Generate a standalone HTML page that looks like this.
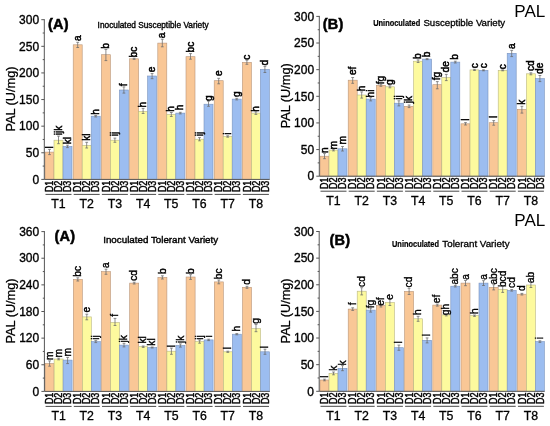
<!DOCTYPE html>
<html><head><meta charset="utf-8"><style>
html,body{margin:0;padding:0;background:#fff;}
svg{display:block;filter:blur(0.5px);}
text{font-family:'Liberation Sans',sans-serif;fill:#000;}
</style></head><body>
<svg width="550" height="426" viewBox="0 0 550 426">
<rect width="550" height="426" fill="#fff"/>
<rect x="45" y="152.1" width="9" height="27.3" fill="#f9c796" stroke="#b8957a" stroke-width="0.6"/>
<rect x="54" y="140.2" width="9" height="39.2" fill="#fdfa9e" stroke="#b9b684" stroke-width="0.6"/>
<rect x="63" y="146.4" width="9" height="33" fill="#9cbdf0" stroke="#7b93bd" stroke-width="0.6"/>
<rect x="73.2" y="44.8" width="9" height="134.6" fill="#f9c796" stroke="#b8957a" stroke-width="0.6"/>
<rect x="82.2" y="145.3" width="9" height="34.1" fill="#fdfa9e" stroke="#b9b684" stroke-width="0.6"/>
<rect x="91.2" y="116.2" width="9" height="63.2" fill="#9cbdf0" stroke="#7b93bd" stroke-width="0.6"/>
<rect x="101.4" y="54.7" width="9" height="124.7" fill="#f9c796" stroke="#b8957a" stroke-width="0.6"/>
<rect x="110.4" y="140.2" width="9" height="39.2" fill="#fdfa9e" stroke="#b9b684" stroke-width="0.6"/>
<rect x="119.4" y="90" width="9" height="89.4" fill="#9cbdf0" stroke="#7b93bd" stroke-width="0.6"/>
<rect x="129.6" y="58.8" width="9" height="120.6" fill="#f9c796" stroke="#b8957a" stroke-width="0.6"/>
<rect x="138.6" y="111.4" width="9" height="68" fill="#fdfa9e" stroke="#b9b684" stroke-width="0.6"/>
<rect x="147.6" y="76" width="9" height="103.4" fill="#9cbdf0" stroke="#7b93bd" stroke-width="0.6"/>
<rect x="157.8" y="43.1" width="9" height="136.3" fill="#f9c796" stroke="#b8957a" stroke-width="0.6"/>
<rect x="166.8" y="114.5" width="9" height="64.9" fill="#fdfa9e" stroke="#b9b684" stroke-width="0.6"/>
<rect x="175.8" y="113.1" width="9" height="66.3" fill="#9cbdf0" stroke="#7b93bd" stroke-width="0.6"/>
<rect x="186" y="56.7" width="9" height="122.7" fill="#f9c796" stroke="#b8957a" stroke-width="0.6"/>
<rect x="195" y="139.2" width="9" height="40.2" fill="#fdfa9e" stroke="#b9b684" stroke-width="0.6"/>
<rect x="204" y="104.2" width="9" height="75.2" fill="#9cbdf0" stroke="#7b93bd" stroke-width="0.6"/>
<rect x="214.2" y="80.7" width="9" height="98.7" fill="#f9c796" stroke="#b8957a" stroke-width="0.6"/>
<rect x="223.2" y="136.5" width="9" height="42.9" fill="#fdfa9e" stroke="#b9b684" stroke-width="0.6"/>
<rect x="232.2" y="99.1" width="9" height="80.3" fill="#9cbdf0" stroke="#7b93bd" stroke-width="0.6"/>
<rect x="242.4" y="62.3" width="9" height="117.1" fill="#f9c796" stroke="#b8957a" stroke-width="0.6"/>
<rect x="251.4" y="113.1" width="9" height="66.3" fill="#fdfa9e" stroke="#b9b684" stroke-width="0.6"/>
<rect x="260.4" y="69.4" width="9" height="110" fill="#9cbdf0" stroke="#7b93bd" stroke-width="0.6"/>
<path d="M49.5 149.4V154.6M48.1 149.4H50.9M48.1 154.6H50.9" stroke="#6a6a6a" stroke-width="0.75" fill="none"/>
<path d="M58.5 136.1V143.7M57.1 136.1H59.9M57.1 143.7H59.9" stroke="#6a6a6a" stroke-width="0.75" fill="none"/>
<path d="M67.5 145.2V147.6M66.1 145.2H68.9M66.1 147.6H68.9" stroke="#6a6a6a" stroke-width="0.75" fill="none"/>
<path d="M77.7 42.3V47.5M76.3 42.3H79.1M76.3 47.5H79.1" stroke="#6a6a6a" stroke-width="0.75" fill="none"/>
<path d="M86.7 142.3V148M85.3 142.3H88.1M85.3 148H88.1" stroke="#6a6a6a" stroke-width="0.75" fill="none"/>
<path d="M95.7 115.5V117M94.3 115.5H97.1M94.3 117H97.1" stroke="#6a6a6a" stroke-width="0.75" fill="none"/>
<path d="M105.9 49.5V60.6M104.5 49.5H107.3M104.5 60.6H107.3" stroke="#6a6a6a" stroke-width="0.75" fill="none"/>
<path d="M114.9 138.1V142.3M113.5 138.1H116.3M113.5 142.3H116.3" stroke="#6a6a6a" stroke-width="0.75" fill="none"/>
<path d="M123.9 86.9V93.1M122.5 86.9H125.3M122.5 93.1H125.3" stroke="#6a6a6a" stroke-width="0.75" fill="none"/>
<path d="M134.1 58.2V59.4M132.7 58.2H135.5M132.7 59.4H135.5" stroke="#6a6a6a" stroke-width="0.75" fill="none"/>
<path d="M143.1 108.4V113.5M141.7 108.4H144.5M141.7 113.5H144.5" stroke="#6a6a6a" stroke-width="0.75" fill="none"/>
<path d="M152.1 73.6V78.7M150.7 73.6H153.5M150.7 78.7H153.5" stroke="#6a6a6a" stroke-width="0.75" fill="none"/>
<path d="M162.3 39.2V46.8M160.9 39.2H163.7M160.9 46.8H163.7" stroke="#6a6a6a" stroke-width="0.75" fill="none"/>
<path d="M171.3 112.5V116.5M169.9 112.5H172.7M169.9 116.5H172.7" stroke="#6a6a6a" stroke-width="0.75" fill="none"/>
<path d="M180.3 112.3V113.9M178.9 112.3H181.7M178.9 113.9H181.7" stroke="#6a6a6a" stroke-width="0.75" fill="none"/>
<path d="M190.5 53.6V59.2M189.1 53.6H191.9M189.1 59.2H191.9" stroke="#6a6a6a" stroke-width="0.75" fill="none"/>
<path d="M199.5 137.6V140.8M198.1 137.6H200.9M198.1 140.8H200.9" stroke="#6a6a6a" stroke-width="0.75" fill="none"/>
<path d="M208.5 101.2V106.3M207.1 101.2H209.9M207.1 106.3H209.9" stroke="#6a6a6a" stroke-width="0.75" fill="none"/>
<path d="M218.7 78.3V83.8M217.3 78.3H220.1M217.3 83.8H220.1" stroke="#6a6a6a" stroke-width="0.75" fill="none"/>
<path d="M227.7 135.8V137.2M226.3 135.8H229.1M226.3 137.2H229.1" stroke="#6a6a6a" stroke-width="0.75" fill="none"/>
<path d="M236.7 98.3V99.9M235.3 98.3H238.1M235.3 99.9H238.1" stroke="#6a6a6a" stroke-width="0.75" fill="none"/>
<path d="M246.9 60.2V64.3M245.5 60.2H248.3M245.5 64.3H248.3" stroke="#6a6a6a" stroke-width="0.75" fill="none"/>
<path d="M255.9 111.8V114.4M254.5 111.8H257.3M254.5 114.4H257.3" stroke="#6a6a6a" stroke-width="0.75" fill="none"/>
<path d="M264.9 66.4V72.5M263.5 66.4H266.3M263.5 72.5H266.3" stroke="#6a6a6a" stroke-width="0.75" fill="none"/>
<text transform="translate(52.6,147.4) rotate(-90)" font-size="10.2" stroke="#000" stroke-width="0.5" text-anchor="middle">l</text>
<text transform="translate(61.6,130.45) rotate(-90)" font-size="10.2" stroke="#000" stroke-width="0.5" text-anchor="middle">ijk</text>
<text transform="translate(70.6,140.7) rotate(-90)" font-size="10.2" stroke="#000" stroke-width="0.5" text-anchor="middle">kl</text>
<text transform="translate(80.8,38.1) rotate(-90)" font-size="10.2" stroke="#000" stroke-width="0.5" text-anchor="middle">a</text>
<text transform="translate(89.8,137.1) rotate(-90)" font-size="10.2" stroke="#000" stroke-width="0.5" text-anchor="middle">kl</text>
<text transform="translate(98.8,111.95) rotate(-90)" font-size="10.2" stroke="#000" stroke-width="0.5" text-anchor="middle">h</text>
<text transform="translate(109,45.85) rotate(-90)" font-size="10.2" stroke="#000" stroke-width="0.5" text-anchor="middle">b</text>
<text transform="translate(118,134.05) rotate(-90)" font-size="10.2" stroke="#000" stroke-width="0.5" text-anchor="middle">ij</text>
<text transform="translate(127,84.85) rotate(-90)" font-size="10.2" stroke="#000" stroke-width="0.5" text-anchor="middle">f</text>
<text transform="translate(137.2,52) rotate(-90)" font-size="10.2" stroke="#000" stroke-width="0.5" text-anchor="middle">bc</text>
<text transform="translate(146.2,104.75) rotate(-90)" font-size="10.2" stroke="#000" stroke-width="0.5" text-anchor="middle">h</text>
<text transform="translate(155.2,69.45) rotate(-90)" font-size="10.2" stroke="#000" stroke-width="0.5" text-anchor="middle">e</text>
<text transform="translate(165.4,35.35) rotate(-90)" font-size="10.2" stroke="#000" stroke-width="0.5" text-anchor="middle">a</text>
<text transform="translate(174.4,108.85) rotate(-90)" font-size="10.2" stroke="#000" stroke-width="0.5" text-anchor="middle">h</text>
<text transform="translate(183.4,107.3) rotate(-90)" font-size="10.2" stroke="#000" stroke-width="0.5" text-anchor="middle">h</text>
<text transform="translate(193.6,47.15) rotate(-90)" font-size="10.2" stroke="#000" stroke-width="0.5" text-anchor="middle">bc</text>
<text transform="translate(202.6,134.05) rotate(-90)" font-size="10.2" stroke="#000" stroke-width="0.5" text-anchor="middle">ij</text>
<text transform="translate(211.6,98.05) rotate(-90)" font-size="10.2" stroke="#000" stroke-width="0.5" text-anchor="middle">g</text>
<text transform="translate(221.8,73.05) rotate(-90)" font-size="10.2" stroke="#000" stroke-width="0.5" text-anchor="middle">e</text>
<text transform="translate(230.8,133.55) rotate(-90)" font-size="10.2" stroke="#000" stroke-width="0.5" text-anchor="middle">i</text>
<text transform="translate(239.8,94.1) rotate(-90)" font-size="10.2" stroke="#000" stroke-width="0.5" text-anchor="middle">g</text>
<text transform="translate(250,57.1) rotate(-90)" font-size="10.2" stroke="#000" stroke-width="0.5" text-anchor="middle">c</text>
<text transform="translate(259,108.85) rotate(-90)" font-size="10.2" stroke="#000" stroke-width="0.5" text-anchor="middle">h</text>
<text transform="translate(268,62.75) rotate(-90)" font-size="10.2" stroke="#000" stroke-width="0.5" text-anchor="middle">d</text>
<path d="M44.3 19.2V179.4H269.7" stroke="#555" stroke-width="1" fill="none"/>
<path d="M41.3 179.4H44.3" stroke="#555" stroke-width="1"/>
<path d="M42.7 166.09H44.3" stroke="#555" stroke-width="1"/>
<text x="39.1" y="183.6" font-size="12" text-anchor="end" stroke="#000" stroke-width="0.35">0</text>
<path d="M41.3 152.78H44.3" stroke="#555" stroke-width="1"/>
<path d="M42.7 139.47H44.3" stroke="#555" stroke-width="1"/>
<text x="39.1" y="156.98" font-size="12" text-anchor="end" stroke="#000" stroke-width="0.35">50</text>
<path d="M41.3 126.17H44.3" stroke="#555" stroke-width="1"/>
<path d="M42.7 112.86H44.3" stroke="#555" stroke-width="1"/>
<text x="39.1" y="130.37" font-size="12" text-anchor="end" stroke="#000" stroke-width="0.35">100</text>
<path d="M41.3 99.55H44.3" stroke="#555" stroke-width="1"/>
<path d="M42.7 86.24H44.3" stroke="#555" stroke-width="1"/>
<text x="39.1" y="103.75" font-size="12" text-anchor="end" stroke="#000" stroke-width="0.35">150</text>
<path d="M41.3 72.93H44.3" stroke="#555" stroke-width="1"/>
<path d="M42.7 59.62H44.3" stroke="#555" stroke-width="1"/>
<text x="39.1" y="77.13" font-size="12" text-anchor="end" stroke="#000" stroke-width="0.35">200</text>
<path d="M41.3 46.32H44.3" stroke="#555" stroke-width="1"/>
<path d="M42.7 33.01H44.3" stroke="#555" stroke-width="1"/>
<text x="39.1" y="50.52" font-size="12" text-anchor="end" stroke="#000" stroke-width="0.35">250</text>
<path d="M41.3 19.7H44.3" stroke="#555" stroke-width="1"/>
<text x="39.1" y="23.9" font-size="12" text-anchor="end" stroke="#000" stroke-width="0.35">300</text>
<text transform="translate(14.8,99.05) rotate(-90)" font-size="12.2" stroke="#000" stroke-width="0.25" text-anchor="middle" textLength="65" lengthAdjust="spacingAndGlyphs">PAL (U/mg)</text>
<text transform="translate(53.1,192.1) rotate(-90) scale(0.88,1)" font-size="10.2" stroke="#000" stroke-width="0.45">D1</text>
<text transform="translate(62.1,192.1) rotate(-90) scale(0.88,1)" font-size="10.2" stroke="#000" stroke-width="0.45">D2</text>
<text transform="translate(71.1,192.1) rotate(-90) scale(0.88,1)" font-size="10.2" stroke="#000" stroke-width="0.45">D3</text>
<path d="M45.5 194.4H71.5" stroke="#333" stroke-width="0.9"/>
<text x="58.5" y="208" font-size="12.3" text-anchor="middle" stroke="#000" stroke-width="0.3">T1</text>
<text transform="translate(81.3,192.1) rotate(-90) scale(0.88,1)" font-size="10.2" stroke="#000" stroke-width="0.45">D1</text>
<text transform="translate(90.3,192.1) rotate(-90) scale(0.88,1)" font-size="10.2" stroke="#000" stroke-width="0.45">D2</text>
<text transform="translate(99.3,192.1) rotate(-90) scale(0.88,1)" font-size="10.2" stroke="#000" stroke-width="0.45">D3</text>
<path d="M73.7 194.4H99.7" stroke="#333" stroke-width="0.9"/>
<text x="86.7" y="208" font-size="12.3" text-anchor="middle" stroke="#000" stroke-width="0.3">T2</text>
<text transform="translate(109.5,192.1) rotate(-90) scale(0.88,1)" font-size="10.2" stroke="#000" stroke-width="0.45">D1</text>
<text transform="translate(118.5,192.1) rotate(-90) scale(0.88,1)" font-size="10.2" stroke="#000" stroke-width="0.45">D2</text>
<text transform="translate(127.5,192.1) rotate(-90) scale(0.88,1)" font-size="10.2" stroke="#000" stroke-width="0.45">D3</text>
<path d="M101.9 194.4H127.9" stroke="#333" stroke-width="0.9"/>
<text x="114.9" y="208" font-size="12.3" text-anchor="middle" stroke="#000" stroke-width="0.3">T3</text>
<text transform="translate(137.7,192.1) rotate(-90) scale(0.88,1)" font-size="10.2" stroke="#000" stroke-width="0.45">D1</text>
<text transform="translate(146.7,192.1) rotate(-90) scale(0.88,1)" font-size="10.2" stroke="#000" stroke-width="0.45">D2</text>
<text transform="translate(155.7,192.1) rotate(-90) scale(0.88,1)" font-size="10.2" stroke="#000" stroke-width="0.45">D3</text>
<path d="M130.1 194.4H156.1" stroke="#333" stroke-width="0.9"/>
<text x="143.1" y="208" font-size="12.3" text-anchor="middle" stroke="#000" stroke-width="0.3">T4</text>
<text transform="translate(165.9,192.1) rotate(-90) scale(0.88,1)" font-size="10.2" stroke="#000" stroke-width="0.45">D1</text>
<text transform="translate(174.9,192.1) rotate(-90) scale(0.88,1)" font-size="10.2" stroke="#000" stroke-width="0.45">D2</text>
<text transform="translate(183.9,192.1) rotate(-90) scale(0.88,1)" font-size="10.2" stroke="#000" stroke-width="0.45">D3</text>
<path d="M158.3 194.4H184.3" stroke="#333" stroke-width="0.9"/>
<text x="171.3" y="208" font-size="12.3" text-anchor="middle" stroke="#000" stroke-width="0.3">T5</text>
<text transform="translate(194.1,192.1) rotate(-90) scale(0.88,1)" font-size="10.2" stroke="#000" stroke-width="0.45">D1</text>
<text transform="translate(203.1,192.1) rotate(-90) scale(0.88,1)" font-size="10.2" stroke="#000" stroke-width="0.45">D2</text>
<text transform="translate(212.1,192.1) rotate(-90) scale(0.88,1)" font-size="10.2" stroke="#000" stroke-width="0.45">D3</text>
<path d="M186.5 194.4H212.5" stroke="#333" stroke-width="0.9"/>
<text x="199.5" y="208" font-size="12.3" text-anchor="middle" stroke="#000" stroke-width="0.3">T6</text>
<text transform="translate(222.3,192.1) rotate(-90) scale(0.88,1)" font-size="10.2" stroke="#000" stroke-width="0.45">D1</text>
<text transform="translate(231.3,192.1) rotate(-90) scale(0.88,1)" font-size="10.2" stroke="#000" stroke-width="0.45">D2</text>
<text transform="translate(240.3,192.1) rotate(-90) scale(0.88,1)" font-size="10.2" stroke="#000" stroke-width="0.45">D3</text>
<path d="M214.7 194.4H240.7" stroke="#333" stroke-width="0.9"/>
<text x="227.7" y="208" font-size="12.3" text-anchor="middle" stroke="#000" stroke-width="0.3">T7</text>
<text transform="translate(250.5,192.1) rotate(-90) scale(0.88,1)" font-size="10.2" stroke="#000" stroke-width="0.45">D1</text>
<text transform="translate(259.5,192.1) rotate(-90) scale(0.88,1)" font-size="10.2" stroke="#000" stroke-width="0.45">D2</text>
<text transform="translate(268.5,192.1) rotate(-90) scale(0.88,1)" font-size="10.2" stroke="#000" stroke-width="0.45">D3</text>
<path d="M242.9 194.4H268.9" stroke="#333" stroke-width="0.9"/>
<text x="255.9" y="208" font-size="12.3" text-anchor="middle" stroke="#000" stroke-width="0.3">T8</text>
<text x="48.1" y="29.2" font-size="14.5" font-weight="bold" stroke="#000" stroke-width="0.5" letter-spacing="0.2">(A)</text>
<rect x="320" y="156.2" width="9" height="20" fill="#f9c796" stroke="#b8957a" stroke-width="0.6"/>
<rect x="329" y="150.1" width="9" height="26.1" fill="#fdfa9e" stroke="#b9b684" stroke-width="0.6"/>
<rect x="338" y="148.8" width="9" height="27.4" fill="#9cbdf0" stroke="#7b93bd" stroke-width="0.6"/>
<rect x="348.2" y="80.2" width="9" height="96" fill="#f9c796" stroke="#b8957a" stroke-width="0.6"/>
<rect x="357.2" y="95" width="9" height="81.2" fill="#fdfa9e" stroke="#b9b684" stroke-width="0.6"/>
<rect x="366.2" y="99.1" width="9" height="77.1" fill="#9cbdf0" stroke="#7b93bd" stroke-width="0.6"/>
<rect x="376.4" y="85.3" width="9" height="90.9" fill="#f9c796" stroke="#b8957a" stroke-width="0.6"/>
<rect x="385.4" y="86.8" width="9" height="89.4" fill="#fdfa9e" stroke="#b9b684" stroke-width="0.6"/>
<rect x="394.4" y="103.2" width="9" height="73" fill="#9cbdf0" stroke="#7b93bd" stroke-width="0.6"/>
<rect x="404.6" y="106.3" width="9" height="69.9" fill="#f9c796" stroke="#b8957a" stroke-width="0.6"/>
<rect x="413.6" y="61.2" width="9" height="115" fill="#fdfa9e" stroke="#b9b684" stroke-width="0.6"/>
<rect x="422.6" y="59.1" width="9" height="117.1" fill="#9cbdf0" stroke="#7b93bd" stroke-width="0.6"/>
<rect x="432.8" y="84.7" width="9" height="91.5" fill="#f9c796" stroke="#b8957a" stroke-width="0.6"/>
<rect x="441.8" y="77.5" width="9" height="98.7" fill="#fdfa9e" stroke="#b9b684" stroke-width="0.6"/>
<rect x="450.8" y="62.1" width="9" height="114.1" fill="#9cbdf0" stroke="#7b93bd" stroke-width="0.6"/>
<rect x="461" y="123.8" width="9" height="52.4" fill="#f9c796" stroke="#b8957a" stroke-width="0.6"/>
<rect x="470" y="69.9" width="9" height="106.3" fill="#fdfa9e" stroke="#b9b684" stroke-width="0.6"/>
<rect x="479" y="70.3" width="9" height="105.9" fill="#9cbdf0" stroke="#7b93bd" stroke-width="0.6"/>
<rect x="489.2" y="122.7" width="9" height="53.5" fill="#f9c796" stroke="#b8957a" stroke-width="0.6"/>
<rect x="498.2" y="70.3" width="9" height="105.9" fill="#fdfa9e" stroke="#b9b684" stroke-width="0.6"/>
<rect x="507.2" y="53.3" width="9" height="122.9" fill="#9cbdf0" stroke="#7b93bd" stroke-width="0.6"/>
<rect x="517.4" y="109.4" width="9" height="66.8" fill="#f9c796" stroke="#b8957a" stroke-width="0.6"/>
<rect x="526.4" y="73.8" width="9" height="102.4" fill="#fdfa9e" stroke="#b9b684" stroke-width="0.6"/>
<rect x="535.4" y="78.6" width="9" height="97.6" fill="#9cbdf0" stroke="#7b93bd" stroke-width="0.6"/>
<path d="M324.5 153.6V158.7M323.1 153.6H325.9M323.1 158.7H325.9" stroke="#6a6a6a" stroke-width="0.75" fill="none"/>
<path d="M333.5 149.3V150.9M332.1 149.3H334.9M332.1 150.9H334.9" stroke="#6a6a6a" stroke-width="0.75" fill="none"/>
<path d="M342.5 146.5V151M341.1 146.5H343.9M341.1 151H343.9" stroke="#6a6a6a" stroke-width="0.75" fill="none"/>
<path d="M352.7 77.5V83.3M351.3 77.5H354.1M351.3 83.3H354.1" stroke="#6a6a6a" stroke-width="0.75" fill="none"/>
<path d="M361.7 91.9V98.1M360.3 91.9H363.1M360.3 98.1H363.1" stroke="#6a6a6a" stroke-width="0.75" fill="none"/>
<path d="M370.7 97.3V100.9M369.3 97.3H372.1M369.3 100.9H372.1" stroke="#6a6a6a" stroke-width="0.75" fill="none"/>
<path d="M380.9 84.3V86.3M379.5 84.3H382.3M379.5 86.3H382.3" stroke="#6a6a6a" stroke-width="0.75" fill="none"/>
<path d="M389.9 85.8V87.8M388.5 85.8H391.3M388.5 87.8H391.3" stroke="#6a6a6a" stroke-width="0.75" fill="none"/>
<path d="M398.9 100.8V105.9M397.5 100.8H400.3M397.5 105.9H400.3" stroke="#6a6a6a" stroke-width="0.75" fill="none"/>
<path d="M409.1 105V107.6M407.7 105H410.5M407.7 107.6H410.5" stroke="#6a6a6a" stroke-width="0.75" fill="none"/>
<path d="M418.1 59.9V62.5M416.7 59.9H419.5M416.7 62.5H419.5" stroke="#6a6a6a" stroke-width="0.75" fill="none"/>
<path d="M427.1 58.6V59.6M425.7 58.6H428.5M425.7 59.6H428.5" stroke="#6a6a6a" stroke-width="0.75" fill="none"/>
<path d="M437.3 81.6V88.8M435.9 81.6H438.7M435.9 88.8H438.7" stroke="#6a6a6a" stroke-width="0.75" fill="none"/>
<path d="M446.3 74.4V80.6M444.9 74.4H447.7M444.9 80.6H447.7" stroke="#6a6a6a" stroke-width="0.75" fill="none"/>
<path d="M455.3 61.2V63M453.9 61.2H456.7M453.9 63H456.7" stroke="#6a6a6a" stroke-width="0.75" fill="none"/>
<path d="M465.5 122.6V125M464.1 122.6H466.9M464.1 125H466.9" stroke="#6a6a6a" stroke-width="0.75" fill="none"/>
<path d="M474.5 69.3V70.5M473.1 69.3H475.9M473.1 70.5H475.9" stroke="#6a6a6a" stroke-width="0.75" fill="none"/>
<path d="M483.5 69.8V70.8M482.1 69.8H484.9M482.1 70.8H484.9" stroke="#6a6a6a" stroke-width="0.75" fill="none"/>
<path d="M493.7 120.6V125.2M492.3 120.6H495.1M492.3 125.2H495.1" stroke="#6a6a6a" stroke-width="0.75" fill="none"/>
<path d="M502.7 69.8V70.8M501.3 69.8H504.1M501.3 70.8H504.1" stroke="#6a6a6a" stroke-width="0.75" fill="none"/>
<path d="M511.7 50.4V56.6M510.3 50.4H513.1M510.3 56.6H513.1" stroke="#6a6a6a" stroke-width="0.75" fill="none"/>
<path d="M521.9 106.3V113.1M520.5 106.3H523.3M520.5 113.1H523.3" stroke="#6a6a6a" stroke-width="0.75" fill="none"/>
<path d="M530.9 72.8V74.8M529.5 72.8H532.3M529.5 74.8H532.3" stroke="#6a6a6a" stroke-width="0.75" fill="none"/>
<path d="M539.9 75.5V81.6M538.5 75.5H541.3M538.5 81.6H541.3" stroke="#6a6a6a" stroke-width="0.75" fill="none"/>
<text transform="translate(327.6,150.25) rotate(-90)" font-size="10.2" stroke="#000" stroke-width="0.5" text-anchor="middle">n</text>
<text transform="translate(336.6,145.35) rotate(-90)" font-size="10.2" stroke="#000" stroke-width="0.5" text-anchor="middle">m</text>
<text transform="translate(345.6,140.2) rotate(-90)" font-size="10.2" stroke="#000" stroke-width="0.5" text-anchor="middle">m</text>
<text transform="translate(355.8,70.85) rotate(-90)" font-size="10.2" stroke="#000" stroke-width="0.5" text-anchor="middle">ef</text>
<text transform="translate(364.8,88.3) rotate(-90)" font-size="10.2" stroke="#000" stroke-width="0.5" text-anchor="middle">h</text>
<text transform="translate(373.8,93.45) rotate(-90)" font-size="10.2" stroke="#000" stroke-width="0.5" text-anchor="middle">hi</text>
<text transform="translate(384,80.1) rotate(-90)" font-size="10.2" stroke="#000" stroke-width="0.5" text-anchor="middle">fg</text>
<text transform="translate(393,82.15) rotate(-90)" font-size="10.2" stroke="#000" stroke-width="0.5" text-anchor="middle">g</text>
<text transform="translate(402,97.6) rotate(-90)" font-size="10.2" stroke="#000" stroke-width="0.5" text-anchor="middle">ij</text>
<text transform="translate(412.2,99.6) rotate(-90)" font-size="10.2" stroke="#000" stroke-width="0.5" text-anchor="middle">jk</text>
<text transform="translate(421.2,56.05) rotate(-90)" font-size="10.2" stroke="#000" stroke-width="0.5" text-anchor="middle">b</text>
<text transform="translate(430.2,54.35) rotate(-90)" font-size="10.2" stroke="#000" stroke-width="0.5" text-anchor="middle">b</text>
<text transform="translate(440.4,76) rotate(-90)" font-size="10.2" stroke="#000" stroke-width="0.5" text-anchor="middle">fg</text>
<text transform="translate(449.4,66.75) rotate(-90)" font-size="10.2" stroke="#000" stroke-width="0.5" text-anchor="middle">de</text>
<text transform="translate(458.4,57) rotate(-90)" font-size="10.2" stroke="#000" stroke-width="0.5" text-anchor="middle">b</text>
<text transform="translate(468.6,119.65) rotate(-90)" font-size="10.2" stroke="#000" stroke-width="0.5" text-anchor="middle">l</text>
<text transform="translate(477.6,65.7) rotate(-90)" font-size="10.2" stroke="#000" stroke-width="0.5" text-anchor="middle">c</text>
<text transform="translate(486.6,65.7) rotate(-90)" font-size="10.2" stroke="#000" stroke-width="0.5" text-anchor="middle">c</text>
<text transform="translate(496.8,116.75) rotate(-90)" font-size="10.2" stroke="#000" stroke-width="0.5" text-anchor="middle">l</text>
<text transform="translate(505.8,66.75) rotate(-90)" font-size="10.2" stroke="#000" stroke-width="0.5" text-anchor="middle">c</text>
<text transform="translate(514.8,46.2) rotate(-90)" font-size="10.2" stroke="#000" stroke-width="0.5" text-anchor="middle">a</text>
<text transform="translate(525,102.15) rotate(-90)" font-size="10.2" stroke="#000" stroke-width="0.5" text-anchor="middle">k</text>
<text transform="translate(534,65.7) rotate(-90)" font-size="10.2" stroke="#000" stroke-width="0.5" text-anchor="middle">cd</text>
<text transform="translate(543,68.25) rotate(-90)" font-size="10.2" stroke="#000" stroke-width="0.5" text-anchor="middle">de</text>
<path d="M319.3 15.9V176.2H544.7" stroke="#555" stroke-width="1" fill="none"/>
<path d="M316.3 176.2H319.3" stroke="#555" stroke-width="1"/>
<path d="M317.7 162.88H319.3" stroke="#555" stroke-width="1"/>
<text x="314.1" y="180.4" font-size="12" text-anchor="end" stroke="#000" stroke-width="0.35">0</text>
<path d="M316.3 149.57H319.3" stroke="#555" stroke-width="1"/>
<path d="M317.7 136.25H319.3" stroke="#555" stroke-width="1"/>
<text x="314.1" y="153.77" font-size="12" text-anchor="end" stroke="#000" stroke-width="0.35">50</text>
<path d="M316.3 122.93H319.3" stroke="#555" stroke-width="1"/>
<path d="M317.7 109.62H319.3" stroke="#555" stroke-width="1"/>
<text x="314.1" y="127.13" font-size="12" text-anchor="end" stroke="#000" stroke-width="0.35">100</text>
<path d="M316.3 96.3H319.3" stroke="#555" stroke-width="1"/>
<path d="M317.7 82.98H319.3" stroke="#555" stroke-width="1"/>
<text x="314.1" y="100.5" font-size="12" text-anchor="end" stroke="#000" stroke-width="0.35">150</text>
<path d="M316.3 69.67H319.3" stroke="#555" stroke-width="1"/>
<path d="M317.7 56.35H319.3" stroke="#555" stroke-width="1"/>
<text x="314.1" y="73.87" font-size="12" text-anchor="end" stroke="#000" stroke-width="0.35">200</text>
<path d="M316.3 43.03H319.3" stroke="#555" stroke-width="1"/>
<path d="M317.7 29.72H319.3" stroke="#555" stroke-width="1"/>
<text x="314.1" y="47.23" font-size="12" text-anchor="end" stroke="#000" stroke-width="0.35">250</text>
<path d="M316.3 16.4H319.3" stroke="#555" stroke-width="1"/>
<text x="314.1" y="20.6" font-size="12" text-anchor="end" stroke="#000" stroke-width="0.35">300</text>
<text transform="translate(289.8,95.8) rotate(-90)" font-size="12.2" stroke="#000" stroke-width="0.25" text-anchor="middle" textLength="65" lengthAdjust="spacingAndGlyphs">PAL (U/mg)</text>
<text transform="translate(328.1,188.9) rotate(-90) scale(0.88,1)" font-size="10.2" stroke="#000" stroke-width="0.45">D1</text>
<text transform="translate(337.1,188.9) rotate(-90) scale(0.88,1)" font-size="10.2" stroke="#000" stroke-width="0.45">D2</text>
<text transform="translate(346.1,188.9) rotate(-90) scale(0.88,1)" font-size="10.2" stroke="#000" stroke-width="0.45">D3</text>
<path d="M320.5 191.2H346.5" stroke="#333" stroke-width="0.9"/>
<text x="333.5" y="204.8" font-size="12.3" text-anchor="middle" stroke="#000" stroke-width="0.3">T1</text>
<text transform="translate(356.3,188.9) rotate(-90) scale(0.88,1)" font-size="10.2" stroke="#000" stroke-width="0.45">D1</text>
<text transform="translate(365.3,188.9) rotate(-90) scale(0.88,1)" font-size="10.2" stroke="#000" stroke-width="0.45">D2</text>
<text transform="translate(374.3,188.9) rotate(-90) scale(0.88,1)" font-size="10.2" stroke="#000" stroke-width="0.45">D3</text>
<path d="M348.7 191.2H374.7" stroke="#333" stroke-width="0.9"/>
<text x="361.7" y="204.8" font-size="12.3" text-anchor="middle" stroke="#000" stroke-width="0.3">T2</text>
<text transform="translate(384.5,188.9) rotate(-90) scale(0.88,1)" font-size="10.2" stroke="#000" stroke-width="0.45">D1</text>
<text transform="translate(393.5,188.9) rotate(-90) scale(0.88,1)" font-size="10.2" stroke="#000" stroke-width="0.45">D2</text>
<text transform="translate(402.5,188.9) rotate(-90) scale(0.88,1)" font-size="10.2" stroke="#000" stroke-width="0.45">D3</text>
<path d="M376.9 191.2H402.9" stroke="#333" stroke-width="0.9"/>
<text x="389.9" y="204.8" font-size="12.3" text-anchor="middle" stroke="#000" stroke-width="0.3">T3</text>
<text transform="translate(412.7,188.9) rotate(-90) scale(0.88,1)" font-size="10.2" stroke="#000" stroke-width="0.45">D1</text>
<text transform="translate(421.7,188.9) rotate(-90) scale(0.88,1)" font-size="10.2" stroke="#000" stroke-width="0.45">D2</text>
<text transform="translate(430.7,188.9) rotate(-90) scale(0.88,1)" font-size="10.2" stroke="#000" stroke-width="0.45">D3</text>
<path d="M405.1 191.2H431.1" stroke="#333" stroke-width="0.9"/>
<text x="418.1" y="204.8" font-size="12.3" text-anchor="middle" stroke="#000" stroke-width="0.3">T4</text>
<text transform="translate(440.9,188.9) rotate(-90) scale(0.88,1)" font-size="10.2" stroke="#000" stroke-width="0.45">D1</text>
<text transform="translate(449.9,188.9) rotate(-90) scale(0.88,1)" font-size="10.2" stroke="#000" stroke-width="0.45">D2</text>
<text transform="translate(458.9,188.9) rotate(-90) scale(0.88,1)" font-size="10.2" stroke="#000" stroke-width="0.45">D3</text>
<path d="M433.3 191.2H459.3" stroke="#333" stroke-width="0.9"/>
<text x="446.3" y="204.8" font-size="12.3" text-anchor="middle" stroke="#000" stroke-width="0.3">T5</text>
<text transform="translate(469.1,188.9) rotate(-90) scale(0.88,1)" font-size="10.2" stroke="#000" stroke-width="0.45">D1</text>
<text transform="translate(478.1,188.9) rotate(-90) scale(0.88,1)" font-size="10.2" stroke="#000" stroke-width="0.45">D2</text>
<text transform="translate(487.1,188.9) rotate(-90) scale(0.88,1)" font-size="10.2" stroke="#000" stroke-width="0.45">D3</text>
<path d="M461.5 191.2H487.5" stroke="#333" stroke-width="0.9"/>
<text x="474.5" y="204.8" font-size="12.3" text-anchor="middle" stroke="#000" stroke-width="0.3">T6</text>
<text transform="translate(497.3,188.9) rotate(-90) scale(0.88,1)" font-size="10.2" stroke="#000" stroke-width="0.45">D1</text>
<text transform="translate(506.3,188.9) rotate(-90) scale(0.88,1)" font-size="10.2" stroke="#000" stroke-width="0.45">D2</text>
<text transform="translate(515.3,188.9) rotate(-90) scale(0.88,1)" font-size="10.2" stroke="#000" stroke-width="0.45">D3</text>
<path d="M489.7 191.2H515.7" stroke="#333" stroke-width="0.9"/>
<text x="502.7" y="204.8" font-size="12.3" text-anchor="middle" stroke="#000" stroke-width="0.3">T7</text>
<text transform="translate(525.5,188.9) rotate(-90) scale(0.88,1)" font-size="10.2" stroke="#000" stroke-width="0.45">D1</text>
<text transform="translate(534.5,188.9) rotate(-90) scale(0.88,1)" font-size="10.2" stroke="#000" stroke-width="0.45">D2</text>
<text transform="translate(543.5,188.9) rotate(-90) scale(0.88,1)" font-size="10.2" stroke="#000" stroke-width="0.45">D3</text>
<path d="M517.9 191.2H543.9" stroke="#333" stroke-width="0.9"/>
<text x="530.9" y="204.8" font-size="12.3" text-anchor="middle" stroke="#000" stroke-width="0.3">T8</text>
<text x="322.7" y="28.7" font-size="14.5" font-weight="bold" stroke="#000" stroke-width="0.5" letter-spacing="0.2">(B)</text>
<rect x="45.1" y="363.6" width="9" height="27.8" fill="#f9c796" stroke="#b8957a" stroke-width="0.6"/>
<rect x="54.1" y="359" width="9" height="32.4" fill="#fdfa9e" stroke="#b9b684" stroke-width="0.6"/>
<rect x="63.1" y="360.1" width="9" height="31.3" fill="#9cbdf0" stroke="#7b93bd" stroke-width="0.6"/>
<rect x="73.3" y="279.4" width="9" height="112" fill="#f9c796" stroke="#b8957a" stroke-width="0.6"/>
<rect x="82.3" y="316.9" width="9" height="74.5" fill="#fdfa9e" stroke="#b9b684" stroke-width="0.6"/>
<rect x="91.3" y="341.6" width="9" height="49.8" fill="#9cbdf0" stroke="#7b93bd" stroke-width="0.6"/>
<rect x="101.5" y="271.6" width="9" height="119.8" fill="#f9c796" stroke="#b8957a" stroke-width="0.6"/>
<rect x="110.5" y="322.5" width="9" height="68.9" fill="#fdfa9e" stroke="#b9b684" stroke-width="0.6"/>
<rect x="119.5" y="345.1" width="9" height="46.3" fill="#9cbdf0" stroke="#7b93bd" stroke-width="0.6"/>
<rect x="129.7" y="283.1" width="9" height="108.3" fill="#f9c796" stroke="#b8957a" stroke-width="0.6"/>
<rect x="138.7" y="346.7" width="9" height="44.7" fill="#fdfa9e" stroke="#b9b684" stroke-width="0.6"/>
<rect x="147.7" y="347.5" width="9" height="43.9" fill="#9cbdf0" stroke="#7b93bd" stroke-width="0.6"/>
<rect x="157.9" y="277.4" width="9" height="114" fill="#f9c796" stroke="#b8957a" stroke-width="0.6"/>
<rect x="166.9" y="351.2" width="9" height="40.2" fill="#fdfa9e" stroke="#b9b684" stroke-width="0.6"/>
<rect x="175.9" y="345.5" width="9" height="45.9" fill="#9cbdf0" stroke="#7b93bd" stroke-width="0.6"/>
<rect x="186.1" y="277" width="9" height="114.4" fill="#f9c796" stroke="#b8957a" stroke-width="0.6"/>
<rect x="195.1" y="341.6" width="9" height="49.8" fill="#fdfa9e" stroke="#b9b684" stroke-width="0.6"/>
<rect x="204.1" y="339.9" width="9" height="51.5" fill="#9cbdf0" stroke="#7b93bd" stroke-width="0.6"/>
<rect x="214.3" y="281.9" width="9" height="109.5" fill="#f9c796" stroke="#b8957a" stroke-width="0.6"/>
<rect x="223.3" y="351.8" width="9" height="39.6" fill="#fdfa9e" stroke="#b9b684" stroke-width="0.6"/>
<rect x="232.3" y="334.2" width="9" height="57.2" fill="#9cbdf0" stroke="#7b93bd" stroke-width="0.6"/>
<rect x="242.5" y="287.3" width="9" height="104.1" fill="#f9c796" stroke="#b8957a" stroke-width="0.6"/>
<rect x="251.5" y="328.6" width="9" height="62.8" fill="#fdfa9e" stroke="#b9b684" stroke-width="0.6"/>
<rect x="260.5" y="351.8" width="9" height="39.6" fill="#9cbdf0" stroke="#7b93bd" stroke-width="0.6"/>
<path d="M49.6 360.9V366.2M48.2 360.9H51M48.2 366.2H51" stroke="#6a6a6a" stroke-width="0.75" fill="none"/>
<path d="M58.6 358.2V359.8M57.2 358.2H60M57.2 359.8H60" stroke="#6a6a6a" stroke-width="0.75" fill="none"/>
<path d="M67.6 357.4V363.6M66.2 357.4H69M66.2 363.6H69" stroke="#6a6a6a" stroke-width="0.75" fill="none"/>
<path d="M77.8 277.8V281M76.4 277.8H79.2M76.4 281H79.2" stroke="#6a6a6a" stroke-width="0.75" fill="none"/>
<path d="M86.8 314.2V319.8M85.4 314.2H88.2M85.4 319.8H88.2" stroke="#6a6a6a" stroke-width="0.75" fill="none"/>
<path d="M95.8 340.6V342.6M94.4 340.6H97.2M94.4 342.6H97.2" stroke="#6a6a6a" stroke-width="0.75" fill="none"/>
<path d="M106 269.2V274.3M104.6 269.2H107.4M104.6 274.3H107.4" stroke="#6a6a6a" stroke-width="0.75" fill="none"/>
<path d="M115 318.4V325.5M113.6 318.4H116.4M113.6 325.5H116.4" stroke="#6a6a6a" stroke-width="0.75" fill="none"/>
<path d="M124 343.3V346.9M122.6 343.3H125.4M122.6 346.9H125.4" stroke="#6a6a6a" stroke-width="0.75" fill="none"/>
<path d="M134.2 282.2V284M132.8 282.2H135.6M132.8 284H135.6" stroke="#6a6a6a" stroke-width="0.75" fill="none"/>
<path d="M143.2 346V347.4M141.8 346H144.6M141.8 347.4H144.6" stroke="#6a6a6a" stroke-width="0.75" fill="none"/>
<path d="M152.2 347V348M150.8 347H153.6M150.8 348H153.6" stroke="#6a6a6a" stroke-width="0.75" fill="none"/>
<path d="M162.4 275.8V279M161 275.8H163.8M161 279H163.8" stroke="#6a6a6a" stroke-width="0.75" fill="none"/>
<path d="M171.4 348.1V354.3M170 348.1H172.8M170 354.3H172.8" stroke="#6a6a6a" stroke-width="0.75" fill="none"/>
<path d="M180.4 343.9V347.1M179 343.9H181.8M179 347.1H181.8" stroke="#6a6a6a" stroke-width="0.75" fill="none"/>
<path d="M190.6 274.7V279.4M189.2 274.7H192M189.2 279.4H192" stroke="#6a6a6a" stroke-width="0.75" fill="none"/>
<path d="M199.6 340V343.2M198.2 340H201M198.2 343.2H201" stroke="#6a6a6a" stroke-width="0.75" fill="none"/>
<path d="M208.6 339.2V340.6M207.2 339.2H210M207.2 340.6H210" stroke="#6a6a6a" stroke-width="0.75" fill="none"/>
<path d="M218.8 280V283.8M217.4 280H220.2M217.4 283.8H220.2" stroke="#6a6a6a" stroke-width="0.75" fill="none"/>
<path d="M227.8 351.2V352.4M226.4 351.2H229.2M226.4 352.4H229.2" stroke="#6a6a6a" stroke-width="0.75" fill="none"/>
<path d="M236.8 333.6V334.8M235.4 333.6H238.2M235.4 334.8H238.2" stroke="#6a6a6a" stroke-width="0.75" fill="none"/>
<path d="M247 286.3V288.3M245.6 286.3H248.4M245.6 288.3H248.4" stroke="#6a6a6a" stroke-width="0.75" fill="none"/>
<path d="M256 324.5V331.7M254.6 324.5H257.4M254.6 331.7H257.4" stroke="#6a6a6a" stroke-width="0.75" fill="none"/>
<path d="M265 349.2V354.3M263.6 349.2H266.4M263.6 354.3H266.4" stroke="#6a6a6a" stroke-width="0.75" fill="none"/>
<text transform="translate(52.7,355.85) rotate(-90)" font-size="10.2" stroke="#000" stroke-width="0.4" text-anchor="middle">m</text>
<text transform="translate(61.7,353.3) rotate(-90)" font-size="10.2" stroke="#000" stroke-width="0.4" text-anchor="middle">m</text>
<text transform="translate(70.7,352.25) rotate(-90)" font-size="10.2" stroke="#000" stroke-width="0.4" text-anchor="middle">m</text>
<text transform="translate(80.9,271.25) rotate(-90)" font-size="10.2" stroke="#000" stroke-width="0.4" text-anchor="middle">bc</text>
<text transform="translate(89.9,309.6) rotate(-90)" font-size="10.2" stroke="#000" stroke-width="0.4" text-anchor="middle">e</text>
<text transform="translate(98.9,337.4) rotate(-90)" font-size="10.2" stroke="#000" stroke-width="0.4" text-anchor="middle">ij</text>
<text transform="translate(109.1,265.25) rotate(-90)" font-size="10.2" stroke="#000" stroke-width="0.4" text-anchor="middle">a</text>
<text transform="translate(118.1,315.25) rotate(-90)" font-size="10.2" stroke="#000" stroke-width="0.4" text-anchor="middle">f</text>
<text transform="translate(127.1,338.9) rotate(-90)" font-size="10.2" stroke="#000" stroke-width="0.4" text-anchor="middle">jk</text>
<text transform="translate(137.3,275.35) rotate(-90)" font-size="10.2" stroke="#000" stroke-width="0.4" text-anchor="middle">cd</text>
<text transform="translate(146.3,339.9) rotate(-90)" font-size="10.2" stroke="#000" stroke-width="0.4" text-anchor="middle">kl</text>
<text transform="translate(155.3,342) rotate(-90)" font-size="10.2" stroke="#000" stroke-width="0.4" text-anchor="middle">kl</text>
<text transform="translate(165.5,271.2) rotate(-90)" font-size="10.2" stroke="#000" stroke-width="0.4" text-anchor="middle">b</text>
<text transform="translate(174.5,346.05) rotate(-90)" font-size="10.2" stroke="#000" stroke-width="0.4" text-anchor="middle">l</text>
<text transform="translate(183.5,339.4) rotate(-90)" font-size="10.2" stroke="#000" stroke-width="0.4" text-anchor="middle">jk</text>
<text transform="translate(193.7,271.2) rotate(-90)" font-size="10.2" stroke="#000" stroke-width="0.4" text-anchor="middle">b</text>
<text transform="translate(202.7,337.4) rotate(-90)" font-size="10.2" stroke="#000" stroke-width="0.4" text-anchor="middle">ij</text>
<text transform="translate(211.7,336.35) rotate(-90)" font-size="10.2" stroke="#000" stroke-width="0.4" text-anchor="middle">i</text>
<text transform="translate(221.9,273.8) rotate(-90)" font-size="10.2" stroke="#000" stroke-width="0.4" text-anchor="middle">bc</text>
<text transform="translate(230.9,348.15) rotate(-90)" font-size="10.2" stroke="#000" stroke-width="0.4" text-anchor="middle">l</text>
<text transform="translate(239.9,328.6) rotate(-90)" font-size="10.2" stroke="#000" stroke-width="0.4" text-anchor="middle">h</text>
<text transform="translate(250.1,282) rotate(-90)" font-size="10.2" stroke="#000" stroke-width="0.4" text-anchor="middle">d</text>
<text transform="translate(259.1,320.95) rotate(-90)" font-size="10.2" stroke="#000" stroke-width="0.4" text-anchor="middle">g</text>
<text transform="translate(268.1,347.1) rotate(-90)" font-size="10.2" stroke="#000" stroke-width="0.4" text-anchor="middle">l</text>
<path d="M44.4 231.1V391.4H269.8" stroke="#555" stroke-width="1" fill="none"/>
<path d="M41.4 391.4H44.4" stroke="#555" stroke-width="1"/>
<path d="M42.8 378.08H44.4" stroke="#555" stroke-width="1"/>
<text x="39.2" y="395.6" font-size="12" text-anchor="end" stroke="#000" stroke-width="0.35">0</text>
<path d="M41.4 364.77H44.4" stroke="#555" stroke-width="1"/>
<path d="M42.8 351.45H44.4" stroke="#555" stroke-width="1"/>
<text x="39.2" y="368.97" font-size="12" text-anchor="end" stroke="#000" stroke-width="0.35">60</text>
<path d="M41.4 338.13H44.4" stroke="#555" stroke-width="1"/>
<path d="M42.8 324.82H44.4" stroke="#555" stroke-width="1"/>
<text x="39.2" y="342.33" font-size="12" text-anchor="end" stroke="#000" stroke-width="0.35">120</text>
<path d="M41.4 311.5H44.4" stroke="#555" stroke-width="1"/>
<path d="M42.8 298.18H44.4" stroke="#555" stroke-width="1"/>
<text x="39.2" y="315.7" font-size="12" text-anchor="end" stroke="#000" stroke-width="0.35">180</text>
<path d="M41.4 284.87H44.4" stroke="#555" stroke-width="1"/>
<path d="M42.8 271.55H44.4" stroke="#555" stroke-width="1"/>
<text x="39.2" y="289.07" font-size="12" text-anchor="end" stroke="#000" stroke-width="0.35">240</text>
<path d="M41.4 258.23H44.4" stroke="#555" stroke-width="1"/>
<path d="M42.8 244.92H44.4" stroke="#555" stroke-width="1"/>
<text x="39.2" y="262.43" font-size="12" text-anchor="end" stroke="#000" stroke-width="0.35">300</text>
<path d="M41.4 231.6H44.4" stroke="#555" stroke-width="1"/>
<text x="39.2" y="235.8" font-size="12" text-anchor="end" stroke="#000" stroke-width="0.35">360</text>
<text transform="translate(14.9,311) rotate(-90)" font-size="12.2" stroke="#000" stroke-width="0.25" text-anchor="middle" textLength="65" lengthAdjust="spacingAndGlyphs">PAL (U/mg)</text>
<text transform="translate(53.2,404.1) rotate(-90) scale(0.88,1)" font-size="10.2" stroke="#000" stroke-width="0.45">D1</text>
<text transform="translate(62.2,404.1) rotate(-90) scale(0.88,1)" font-size="10.2" stroke="#000" stroke-width="0.45">D2</text>
<text transform="translate(71.2,404.1) rotate(-90) scale(0.88,1)" font-size="10.2" stroke="#000" stroke-width="0.45">D3</text>
<path d="M45.6 406.4H71.6" stroke="#333" stroke-width="0.9"/>
<text x="58.6" y="420" font-size="12.3" text-anchor="middle" stroke="#000" stroke-width="0.3">T1</text>
<text transform="translate(81.4,404.1) rotate(-90) scale(0.88,1)" font-size="10.2" stroke="#000" stroke-width="0.45">D1</text>
<text transform="translate(90.4,404.1) rotate(-90) scale(0.88,1)" font-size="10.2" stroke="#000" stroke-width="0.45">D2</text>
<text transform="translate(99.4,404.1) rotate(-90) scale(0.88,1)" font-size="10.2" stroke="#000" stroke-width="0.45">D3</text>
<path d="M73.8 406.4H99.8" stroke="#333" stroke-width="0.9"/>
<text x="86.8" y="420" font-size="12.3" text-anchor="middle" stroke="#000" stroke-width="0.3">T2</text>
<text transform="translate(109.6,404.1) rotate(-90) scale(0.88,1)" font-size="10.2" stroke="#000" stroke-width="0.45">D1</text>
<text transform="translate(118.6,404.1) rotate(-90) scale(0.88,1)" font-size="10.2" stroke="#000" stroke-width="0.45">D2</text>
<text transform="translate(127.6,404.1) rotate(-90) scale(0.88,1)" font-size="10.2" stroke="#000" stroke-width="0.45">D3</text>
<path d="M102 406.4H128" stroke="#333" stroke-width="0.9"/>
<text x="115" y="420" font-size="12.3" text-anchor="middle" stroke="#000" stroke-width="0.3">T3</text>
<text transform="translate(137.8,404.1) rotate(-90) scale(0.88,1)" font-size="10.2" stroke="#000" stroke-width="0.45">D1</text>
<text transform="translate(146.8,404.1) rotate(-90) scale(0.88,1)" font-size="10.2" stroke="#000" stroke-width="0.45">D2</text>
<text transform="translate(155.8,404.1) rotate(-90) scale(0.88,1)" font-size="10.2" stroke="#000" stroke-width="0.45">D3</text>
<path d="M130.2 406.4H156.2" stroke="#333" stroke-width="0.9"/>
<text x="143.2" y="420" font-size="12.3" text-anchor="middle" stroke="#000" stroke-width="0.3">T4</text>
<text transform="translate(166,404.1) rotate(-90) scale(0.88,1)" font-size="10.2" stroke="#000" stroke-width="0.45">D1</text>
<text transform="translate(175,404.1) rotate(-90) scale(0.88,1)" font-size="10.2" stroke="#000" stroke-width="0.45">D2</text>
<text transform="translate(184,404.1) rotate(-90) scale(0.88,1)" font-size="10.2" stroke="#000" stroke-width="0.45">D3</text>
<path d="M158.4 406.4H184.4" stroke="#333" stroke-width="0.9"/>
<text x="171.4" y="420" font-size="12.3" text-anchor="middle" stroke="#000" stroke-width="0.3">T5</text>
<text transform="translate(194.2,404.1) rotate(-90) scale(0.88,1)" font-size="10.2" stroke="#000" stroke-width="0.45">D1</text>
<text transform="translate(203.2,404.1) rotate(-90) scale(0.88,1)" font-size="10.2" stroke="#000" stroke-width="0.45">D2</text>
<text transform="translate(212.2,404.1) rotate(-90) scale(0.88,1)" font-size="10.2" stroke="#000" stroke-width="0.45">D3</text>
<path d="M186.6 406.4H212.6" stroke="#333" stroke-width="0.9"/>
<text x="199.6" y="420" font-size="12.3" text-anchor="middle" stroke="#000" stroke-width="0.3">T6</text>
<text transform="translate(222.4,404.1) rotate(-90) scale(0.88,1)" font-size="10.2" stroke="#000" stroke-width="0.45">D1</text>
<text transform="translate(231.4,404.1) rotate(-90) scale(0.88,1)" font-size="10.2" stroke="#000" stroke-width="0.45">D2</text>
<text transform="translate(240.4,404.1) rotate(-90) scale(0.88,1)" font-size="10.2" stroke="#000" stroke-width="0.45">D3</text>
<path d="M214.8 406.4H240.8" stroke="#333" stroke-width="0.9"/>
<text x="227.8" y="420" font-size="12.3" text-anchor="middle" stroke="#000" stroke-width="0.3">T7</text>
<text transform="translate(250.6,404.1) rotate(-90) scale(0.88,1)" font-size="10.2" stroke="#000" stroke-width="0.45">D1</text>
<text transform="translate(259.6,404.1) rotate(-90) scale(0.88,1)" font-size="10.2" stroke="#000" stroke-width="0.45">D2</text>
<text transform="translate(268.6,404.1) rotate(-90) scale(0.88,1)" font-size="10.2" stroke="#000" stroke-width="0.45">D3</text>
<path d="M243 406.4H269" stroke="#333" stroke-width="0.9"/>
<text x="256" y="420" font-size="12.3" text-anchor="middle" stroke="#000" stroke-width="0.3">T8</text>
<text x="54.5" y="240.7" font-size="14.5" font-weight="bold" stroke="#000" stroke-width="0.5" letter-spacing="0.2">(A)</text>
<rect x="320" y="380" width="9" height="11.3" fill="#f9c796" stroke="#b8957a" stroke-width="0.6"/>
<rect x="329" y="373.4" width="9" height="17.9" fill="#fdfa9e" stroke="#b9b684" stroke-width="0.6"/>
<rect x="338" y="368.3" width="9" height="23" fill="#9cbdf0" stroke="#7b93bd" stroke-width="0.6"/>
<rect x="348.2" y="309.1" width="9" height="82.2" fill="#f9c796" stroke="#b8957a" stroke-width="0.6"/>
<rect x="357.2" y="291.2" width="9" height="100.1" fill="#fdfa9e" stroke="#b9b684" stroke-width="0.6"/>
<rect x="366.2" y="310.1" width="9" height="81.2" fill="#9cbdf0" stroke="#7b93bd" stroke-width="0.6"/>
<rect x="376.4" y="305.5" width="9" height="85.8" fill="#f9c796" stroke="#b8957a" stroke-width="0.6"/>
<rect x="385.4" y="302.5" width="9" height="88.8" fill="#fdfa9e" stroke="#b9b684" stroke-width="0.6"/>
<rect x="394.4" y="347.7" width="9" height="43.6" fill="#9cbdf0" stroke="#7b93bd" stroke-width="0.6"/>
<rect x="404.6" y="291.4" width="9" height="99.9" fill="#f9c796" stroke="#b8957a" stroke-width="0.6"/>
<rect x="413.6" y="318.8" width="9" height="72.5" fill="#fdfa9e" stroke="#b9b684" stroke-width="0.6"/>
<rect x="422.6" y="340.3" width="9" height="51" fill="#9cbdf0" stroke="#7b93bd" stroke-width="0.6"/>
<rect x="432.8" y="305.1" width="9" height="86.2" fill="#f9c796" stroke="#b8957a" stroke-width="0.6"/>
<rect x="441.8" y="314.9" width="9" height="76.4" fill="#fdfa9e" stroke="#b9b684" stroke-width="0.6"/>
<rect x="450.8" y="286.2" width="9" height="105.1" fill="#9cbdf0" stroke="#7b93bd" stroke-width="0.6"/>
<rect x="461" y="283.1" width="9" height="108.2" fill="#f9c796" stroke="#b8957a" stroke-width="0.6"/>
<rect x="470" y="315.7" width="9" height="75.6" fill="#fdfa9e" stroke="#b9b684" stroke-width="0.6"/>
<rect x="479" y="283.1" width="9" height="108.2" fill="#9cbdf0" stroke="#7b93bd" stroke-width="0.6"/>
<rect x="489.2" y="287.3" width="9" height="104" fill="#f9c796" stroke="#b8957a" stroke-width="0.6"/>
<rect x="498.2" y="289.3" width="9" height="102" fill="#fdfa9e" stroke="#b9b684" stroke-width="0.6"/>
<rect x="507.2" y="290.3" width="9" height="101" fill="#9cbdf0" stroke="#7b93bd" stroke-width="0.6"/>
<rect x="517.4" y="294.2" width="9" height="97.1" fill="#f9c796" stroke="#b8957a" stroke-width="0.6"/>
<rect x="526.4" y="285" width="9" height="106.3" fill="#fdfa9e" stroke="#b9b684" stroke-width="0.6"/>
<rect x="535.4" y="341.6" width="9" height="49.7" fill="#9cbdf0" stroke="#7b93bd" stroke-width="0.6"/>
<path d="M324.5 379.2V380.8M323.1 379.2H325.9M323.1 380.8H325.9" stroke="#6a6a6a" stroke-width="0.75" fill="none"/>
<path d="M333.5 372V374.8M332.1 372H334.9M332.1 374.8H334.9" stroke="#6a6a6a" stroke-width="0.75" fill="none"/>
<path d="M342.5 365.6V370.7M341.1 365.6H343.9M341.1 370.7H343.9" stroke="#6a6a6a" stroke-width="0.75" fill="none"/>
<path d="M352.7 307.8V310.4M351.3 307.8H354.1M351.3 310.4H354.1" stroke="#6a6a6a" stroke-width="0.75" fill="none"/>
<path d="M361.7 287.7V294.9M360.3 287.7H363.1M360.3 294.9H363.1" stroke="#6a6a6a" stroke-width="0.75" fill="none"/>
<path d="M370.7 308.1V312.1M369.3 308.1H372.1M369.3 312.1H372.1" stroke="#6a6a6a" stroke-width="0.75" fill="none"/>
<path d="M380.9 304V307M379.5 304H382.3M379.5 307H382.3" stroke="#6a6a6a" stroke-width="0.75" fill="none"/>
<path d="M389.9 299.5V305.5M388.5 299.5H391.3M388.5 305.5H391.3" stroke="#6a6a6a" stroke-width="0.75" fill="none"/>
<path d="M398.9 345.1V350.3M397.5 345.1H400.3M397.5 350.3H400.3" stroke="#6a6a6a" stroke-width="0.75" fill="none"/>
<path d="M409.1 288.3V294.5M407.7 288.3H410.5M407.7 294.5H410.5" stroke="#6a6a6a" stroke-width="0.75" fill="none"/>
<path d="M418.1 316.3V321.3M416.7 316.3H419.5M416.7 321.3H419.5" stroke="#6a6a6a" stroke-width="0.75" fill="none"/>
<path d="M427.1 337.9V342.9M425.7 337.9H428.5M425.7 342.9H428.5" stroke="#6a6a6a" stroke-width="0.75" fill="none"/>
<path d="M437.3 304.1V306.1M435.9 304.1H438.7M435.9 306.1H438.7" stroke="#6a6a6a" stroke-width="0.75" fill="none"/>
<path d="M446.3 313.9V315.9M444.9 313.9H447.7M444.9 315.9H447.7" stroke="#6a6a6a" stroke-width="0.75" fill="none"/>
<path d="M455.3 285.4V287M453.9 285.4H456.7M453.9 287H456.7" stroke="#6a6a6a" stroke-width="0.75" fill="none"/>
<path d="M465.5 280.5V285.7M464.1 280.5H466.9M464.1 285.7H466.9" stroke="#6a6a6a" stroke-width="0.75" fill="none"/>
<path d="M474.5 315V316.4M473.1 315H475.9M473.1 316.4H475.9" stroke="#6a6a6a" stroke-width="0.75" fill="none"/>
<path d="M483.5 280.7V285.5M482.1 280.7H484.9M482.1 285.5H484.9" stroke="#6a6a6a" stroke-width="0.75" fill="none"/>
<path d="M493.7 284.7V289.9M492.3 284.7H495.1M492.3 289.9H495.1" stroke="#6a6a6a" stroke-width="0.75" fill="none"/>
<path d="M502.7 286.2V292.4M501.3 286.2H504.1M501.3 292.4H504.1" stroke="#6a6a6a" stroke-width="0.75" fill="none"/>
<path d="M511.7 289.5V291.1M510.3 289.5H513.1M510.3 291.1H513.1" stroke="#6a6a6a" stroke-width="0.75" fill="none"/>
<path d="M521.9 293.4V295M520.5 293.4H523.3M520.5 295H523.3" stroke="#6a6a6a" stroke-width="0.75" fill="none"/>
<path d="M530.9 282.5V287.5M529.5 282.5H532.3M529.5 287.5H532.3" stroke="#6a6a6a" stroke-width="0.75" fill="none"/>
<path d="M539.9 340.8V342.4M538.5 340.8H541.3M538.5 342.4H541.3" stroke="#6a6a6a" stroke-width="0.75" fill="none"/>
<text transform="translate(327.6,376.6) rotate(-90)" font-size="10.2" stroke="#000" stroke-width="0.35" text-anchor="middle">l</text>
<text transform="translate(336.6,368.15) rotate(-90)" font-size="10.2" stroke="#000" stroke-width="0.35" text-anchor="middle">k</text>
<text transform="translate(345.6,363.05) rotate(-90)" font-size="10.2" stroke="#000" stroke-width="0.35" text-anchor="middle">k</text>
<text transform="translate(355.8,303.75) rotate(-90)" font-size="10.2" stroke="#000" stroke-width="0.35" text-anchor="middle">f</text>
<text transform="translate(364.8,281.5) rotate(-90)" font-size="10.2" stroke="#000" stroke-width="0.35" text-anchor="middle">cd</text>
<text transform="translate(373.8,304.1) rotate(-90)" font-size="10.2" stroke="#000" stroke-width="0.35" text-anchor="middle">fg</text>
<text transform="translate(384,301.55) rotate(-90)" font-size="10.2" stroke="#000" stroke-width="0.35" text-anchor="middle">ef</text>
<text transform="translate(393,296.95) rotate(-90)" font-size="10.2" stroke="#000" stroke-width="0.35" text-anchor="middle">e</text>
<text transform="translate(402,342.3) rotate(-90)" font-size="10.2" stroke="#000" stroke-width="0.35" text-anchor="middle">l</text>
<text transform="translate(412.2,282) rotate(-90)" font-size="10.2" stroke="#000" stroke-width="0.35" text-anchor="middle">cd</text>
<text transform="translate(421.2,312.2) rotate(-90)" font-size="10.2" stroke="#000" stroke-width="0.35" text-anchor="middle">h</text>
<text transform="translate(430.2,335.1) rotate(-90)" font-size="10.2" stroke="#000" stroke-width="0.35" text-anchor="middle">l</text>
<text transform="translate(440.4,299) rotate(-90)" font-size="10.2" stroke="#000" stroke-width="0.35" text-anchor="middle">ef</text>
<text transform="translate(449.4,309.6) rotate(-90)" font-size="10.2" stroke="#000" stroke-width="0.35" text-anchor="middle">gh</text>
<text transform="translate(458.4,276.4) rotate(-90)" font-size="10.2" stroke="#000" stroke-width="0.35" text-anchor="middle">abc</text>
<text transform="translate(468.6,276.85) rotate(-90)" font-size="10.2" stroke="#000" stroke-width="0.35" text-anchor="middle">a</text>
<text transform="translate(477.6,311.15) rotate(-90)" font-size="10.2" stroke="#000" stroke-width="0.35" text-anchor="middle">h</text>
<text transform="translate(486.6,276.85) rotate(-90)" font-size="10.2" stroke="#000" stroke-width="0.35" text-anchor="middle">a</text>
<text transform="translate(496.8,276.4) rotate(-90)" font-size="10.2" stroke="#000" stroke-width="0.35" text-anchor="middle">abc</text>
<text transform="translate(505.8,278.9) rotate(-90)" font-size="10.2" stroke="#000" stroke-width="0.35" text-anchor="middle">bcd</text>
<text transform="translate(514.8,282.55) rotate(-90)" font-size="10.2" stroke="#000" stroke-width="0.35" text-anchor="middle">cd</text>
<text transform="translate(525,288.15) rotate(-90)" font-size="10.2" stroke="#000" stroke-width="0.35" text-anchor="middle">d</text>
<text transform="translate(534,277.4) rotate(-90)" font-size="10.2" stroke="#000" stroke-width="0.35" text-anchor="middle">ab</text>
<text transform="translate(543,338.2) rotate(-90)" font-size="10.2" stroke="#000" stroke-width="0.35" text-anchor="middle">i</text>
<path d="M319.2 231V391.3H544.7" stroke="#555" stroke-width="1" fill="none"/>
<path d="M316.2 391.3H319.2" stroke="#555" stroke-width="1"/>
<path d="M317.6 377.98H319.2" stroke="#555" stroke-width="1"/>
<text x="314" y="395.5" font-size="12" text-anchor="end" stroke="#000" stroke-width="0.35">0</text>
<path d="M316.2 364.67H319.2" stroke="#555" stroke-width="1"/>
<path d="M317.6 351.35H319.2" stroke="#555" stroke-width="1"/>
<text x="314" y="368.87" font-size="12" text-anchor="end" stroke="#000" stroke-width="0.35">50</text>
<path d="M316.2 338.03H319.2" stroke="#555" stroke-width="1"/>
<path d="M317.6 324.72H319.2" stroke="#555" stroke-width="1"/>
<text x="314" y="342.23" font-size="12" text-anchor="end" stroke="#000" stroke-width="0.35">100</text>
<path d="M316.2 311.4H319.2" stroke="#555" stroke-width="1"/>
<path d="M317.6 298.08H319.2" stroke="#555" stroke-width="1"/>
<text x="314" y="315.6" font-size="12" text-anchor="end" stroke="#000" stroke-width="0.35">150</text>
<path d="M316.2 284.77H319.2" stroke="#555" stroke-width="1"/>
<path d="M317.6 271.45H319.2" stroke="#555" stroke-width="1"/>
<text x="314" y="288.97" font-size="12" text-anchor="end" stroke="#000" stroke-width="0.35">200</text>
<path d="M316.2 258.13H319.2" stroke="#555" stroke-width="1"/>
<path d="M317.6 244.82H319.2" stroke="#555" stroke-width="1"/>
<text x="314" y="262.33" font-size="12" text-anchor="end" stroke="#000" stroke-width="0.35">250</text>
<path d="M316.2 231.5H319.2" stroke="#555" stroke-width="1"/>
<text x="314" y="235.7" font-size="12" text-anchor="end" stroke="#000" stroke-width="0.35">300</text>
<text transform="translate(289.7,310.9) rotate(-90)" font-size="12.2" stroke="#000" stroke-width="0.25" text-anchor="middle" textLength="65" lengthAdjust="spacingAndGlyphs">PAL (U/mg)</text>
<text transform="translate(328.1,404) rotate(-90) scale(0.88,1)" font-size="10.2" stroke="#000" stroke-width="0.45">D1</text>
<text transform="translate(337.1,404) rotate(-90) scale(0.88,1)" font-size="10.2" stroke="#000" stroke-width="0.45">D2</text>
<text transform="translate(346.1,404) rotate(-90) scale(0.88,1)" font-size="10.2" stroke="#000" stroke-width="0.45">D3</text>
<path d="M320.5 406.3H346.5" stroke="#333" stroke-width="0.9"/>
<text x="333.5" y="419.9" font-size="12.3" text-anchor="middle" stroke="#000" stroke-width="0.3">T1</text>
<text transform="translate(356.3,404) rotate(-90) scale(0.88,1)" font-size="10.2" stroke="#000" stroke-width="0.45">D1</text>
<text transform="translate(365.3,404) rotate(-90) scale(0.88,1)" font-size="10.2" stroke="#000" stroke-width="0.45">D2</text>
<text transform="translate(374.3,404) rotate(-90) scale(0.88,1)" font-size="10.2" stroke="#000" stroke-width="0.45">D3</text>
<path d="M348.7 406.3H374.7" stroke="#333" stroke-width="0.9"/>
<text x="361.7" y="419.9" font-size="12.3" text-anchor="middle" stroke="#000" stroke-width="0.3">T2</text>
<text transform="translate(384.5,404) rotate(-90) scale(0.88,1)" font-size="10.2" stroke="#000" stroke-width="0.45">D1</text>
<text transform="translate(393.5,404) rotate(-90) scale(0.88,1)" font-size="10.2" stroke="#000" stroke-width="0.45">D2</text>
<text transform="translate(402.5,404) rotate(-90) scale(0.88,1)" font-size="10.2" stroke="#000" stroke-width="0.45">D3</text>
<path d="M376.9 406.3H402.9" stroke="#333" stroke-width="0.9"/>
<text x="389.9" y="419.9" font-size="12.3" text-anchor="middle" stroke="#000" stroke-width="0.3">T3</text>
<text transform="translate(412.7,404) rotate(-90) scale(0.88,1)" font-size="10.2" stroke="#000" stroke-width="0.45">D1</text>
<text transform="translate(421.7,404) rotate(-90) scale(0.88,1)" font-size="10.2" stroke="#000" stroke-width="0.45">D2</text>
<text transform="translate(430.7,404) rotate(-90) scale(0.88,1)" font-size="10.2" stroke="#000" stroke-width="0.45">D3</text>
<path d="M405.1 406.3H431.1" stroke="#333" stroke-width="0.9"/>
<text x="418.1" y="419.9" font-size="12.3" text-anchor="middle" stroke="#000" stroke-width="0.3">T4</text>
<text transform="translate(440.9,404) rotate(-90) scale(0.88,1)" font-size="10.2" stroke="#000" stroke-width="0.45">D1</text>
<text transform="translate(449.9,404) rotate(-90) scale(0.88,1)" font-size="10.2" stroke="#000" stroke-width="0.45">D2</text>
<text transform="translate(458.9,404) rotate(-90) scale(0.88,1)" font-size="10.2" stroke="#000" stroke-width="0.45">D3</text>
<path d="M433.3 406.3H459.3" stroke="#333" stroke-width="0.9"/>
<text x="446.3" y="419.9" font-size="12.3" text-anchor="middle" stroke="#000" stroke-width="0.3">T5</text>
<text transform="translate(469.1,404) rotate(-90) scale(0.88,1)" font-size="10.2" stroke="#000" stroke-width="0.45">D1</text>
<text transform="translate(478.1,404) rotate(-90) scale(0.88,1)" font-size="10.2" stroke="#000" stroke-width="0.45">D2</text>
<text transform="translate(487.1,404) rotate(-90) scale(0.88,1)" font-size="10.2" stroke="#000" stroke-width="0.45">D3</text>
<path d="M461.5 406.3H487.5" stroke="#333" stroke-width="0.9"/>
<text x="474.5" y="419.9" font-size="12.3" text-anchor="middle" stroke="#000" stroke-width="0.3">T6</text>
<text transform="translate(497.3,404) rotate(-90) scale(0.88,1)" font-size="10.2" stroke="#000" stroke-width="0.45">D1</text>
<text transform="translate(506.3,404) rotate(-90) scale(0.88,1)" font-size="10.2" stroke="#000" stroke-width="0.45">D2</text>
<text transform="translate(515.3,404) rotate(-90) scale(0.88,1)" font-size="10.2" stroke="#000" stroke-width="0.45">D3</text>
<path d="M489.7 406.3H515.7" stroke="#333" stroke-width="0.9"/>
<text x="502.7" y="419.9" font-size="12.3" text-anchor="middle" stroke="#000" stroke-width="0.3">T7</text>
<text transform="translate(525.5,404) rotate(-90) scale(0.88,1)" font-size="10.2" stroke="#000" stroke-width="0.45">D1</text>
<text transform="translate(534.5,404) rotate(-90) scale(0.88,1)" font-size="10.2" stroke="#000" stroke-width="0.45">D2</text>
<text transform="translate(543.5,404) rotate(-90) scale(0.88,1)" font-size="10.2" stroke="#000" stroke-width="0.45">D3</text>
<path d="M517.9 406.3H543.9" stroke="#333" stroke-width="0.9"/>
<text x="530.9" y="419.9" font-size="12.3" text-anchor="middle" stroke="#000" stroke-width="0.3">T8</text>
<text x="329.5" y="244.7" font-size="14.5" font-weight="bold" stroke="#000" stroke-width="0.5" letter-spacing="0.2">(B)</text>

<text x="97.6" y="28" font-size="8.2" textLength="111" lengthAdjust="spacingAndGlyphs" stroke="#000" stroke-width="0.35">Inoculated Susceptible Variety</text>
<text x="373.2" y="26.3" font-size="8.4" font-weight="bold" textLength="47" lengthAdjust="spacingAndGlyphs" stroke="#000" stroke-width="0.2">Uninoculated</text>
<text x="423.4" y="25.9" font-size="9.5" textLength="81.8" lengthAdjust="spacingAndGlyphs" stroke="#000" stroke-width="0.3">Susceptible Variety</text>
<text x="103.2" y="243.1" font-size="9.6" textLength="115" lengthAdjust="spacingAndGlyphs" stroke="#000" stroke-width="0.4">Inoculated Tolerant Variety</text>
<text x="392.0" y="247.1" font-size="8.4" font-weight="bold" textLength="47" lengthAdjust="spacingAndGlyphs" stroke="#000" stroke-width="0.2">Uninoculated</text>
<text x="442.3" y="247.1" font-size="9.4" textLength="67.3" lengthAdjust="spacingAndGlyphs" stroke="#000" stroke-width="0.3">Tolerant Variety</text>
<text x="514.3" y="16.6" font-size="16" textLength="31" lengthAdjust="spacingAndGlyphs">PAL</text>
<text x="514.3" y="225.6" font-size="16" textLength="31" lengthAdjust="spacingAndGlyphs">PAL</text>

</svg>
</body></html>
